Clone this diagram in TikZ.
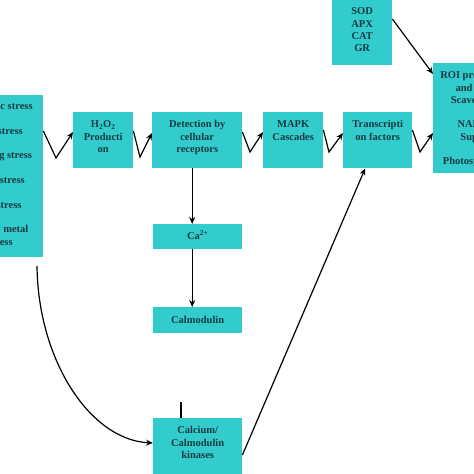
\documentclass[tikz,border=0pt]{standalone}
\usepackage{fontspec}
\setmainfont{Liberation Serif}
\usetikzlibrary{arrows.meta}
\definecolor{boxcyan}{RGB}{51,204,204}
\definecolor{boxtext}{RGB}{22,58,66}
\newcommand{\boxlines}[1]{\begin{tabular}[t]{@{}c@{}}#1\end{tabular}}

\begin{document}
\begin{tikzpicture}[x=1pt,y=-1pt,
        box/.style={fill=boxcyan,text=boxtext,font=\bfseries\fontsize{10.5}{12.3}\selectfont,
          inner sep=0pt,anchor=north west,text height=15.5pt},
        flow/.style={-{Stealth[length=7pt,width=6pt]},line width=1.2pt}]
        \useasboundingbox (0,0) rectangle (474,474);
        \clip (0,0) rectangle (474,474);

        \node[box,minimum width=86pt,text height=14.5pt,text depth=147.5pt] (stress) at (-43,95)
          {\boxlines{Osmotic stress\\[12.3pt]Salt stress\\[12.3pt]Chilling stress\\[12.3pt]Heat stress\\[12.3pt]UV stress\\[12.3pt]Heavy metal\\stress}};
        \node[box,minimum width=60pt,text depth=40.5pt] (h2o2) at (73,112) {\boxlines{H\textsubscript{2}O\textsubscript{2}\\Producti\\on}};
        \node[box,minimum width=90pt,text depth=40.5pt] (detect) at (152,112) {\boxlines{Detection by\\cellular\\receptors}};
        \node[box,minimum width=60pt,text depth=40.5pt] (mapk) at (263,112) {\boxlines{MAPK\\Cascades}};
        \node[box,minimum width=69pt,text depth=40.5pt] (trans) at (343,112) {\boxlines{Transcripti\\on factors}};
        \node[box,minimum width=86pt,text depth=94.5pt] (roi) at (433,63)
          {\boxlines{ROI production\\and their\\Scavenging\\[12.3pt]NADPH\\Supply\\[12.3pt]Photosynthesis}};
        \node[box,minimum width=60pt,text height=19.5pt,text depth=50.5pt] (sod) at (332,-5) {\boxlines{SOD\\APX\\CAT\\GR}};
        \node[box,minimum width=89pt,text depth=9.5pt] (ca) at (153,224) {Ca\textsuperscript{2+}};
        \node[box,minimum width=89pt,text height=16.5pt,text depth=9.5pt] (calm) at (153,307) {Calmodulin};
        \node[box,minimum width=89pt,text depth=40.5pt] (kin) at (153,418) {\boxlines{Calcium/\\Calmodulin\\kinases}};

        % zigzag links along the main row
        \coordinate (v1) at (56,158);
        \coordinate (v2) at (140,157);
        \coordinate (v3) at (250,152);
        \coordinate (v4) at (329,152);
        \coordinate (v5) at (420,152);
        \draw[flow] ([yshift=-36pt]stress.north east) -- (v1) -- ([yshift=-20pt]h2o2.north west);
        \draw[flow] ([yshift=-19pt]h2o2.north east) -- (v2) -- ([yshift=-21pt]detect.north west);
        \draw[flow] ([yshift=-20pt]detect.north east) -- (v3) -- ([yshift=-20pt]mapk.north west);
        \draw[flow] ([yshift=-18pt]mapk.north east) -- (v4) -- ([yshift=-21pt]trans.north west);
        \draw[flow] ([yshift=-18pt]trans.north east) -- (v5) -- ([yshift=-70pt]roi.north west);
        \draw[flow] ([yshift=-24pt]sod.north east) -- ([yshift=-11pt]roi.north west);

        \draw[flow] ([xshift=-5pt]detect.south) -- ([xshift=-5.5pt]ca.north);
        \draw[flow] ([xshift=-5.5pt]ca.south) -- ([xshift=-5.5pt]calm.north);

        \coordinate (stub) at (181,402);
        \draw[line width=1.2pt] (stub) -- (stub |- kin.north);

        \coordinate (drop) at (37,266);
        \draw[flow] (drop) .. controls (38,360) and (90,440) .. ([yshift=-25pt]kin.north west);
        \draw[flow] ([yshift=-37pt]kin.north east) -- ([xshift=-12.5pt]trans.south);
\end{tikzpicture}
\end{document}
